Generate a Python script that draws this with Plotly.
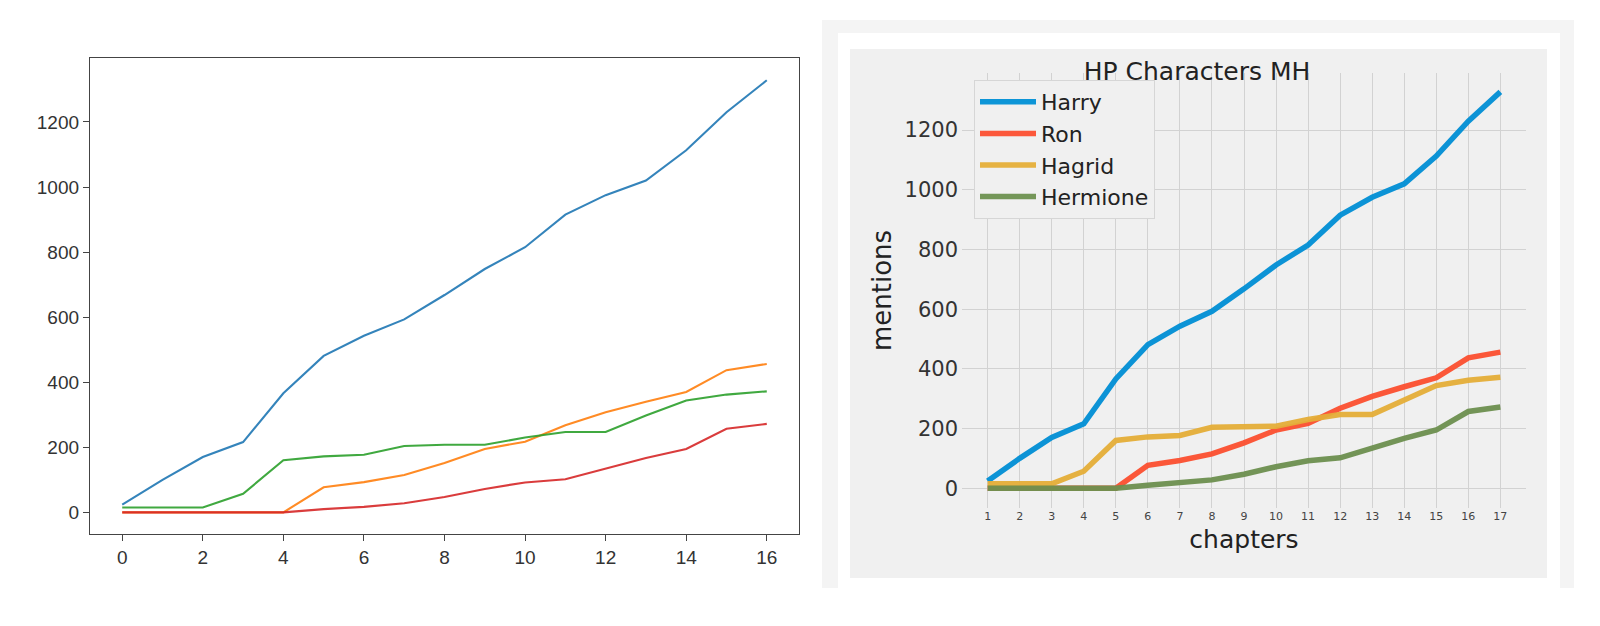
import plotly.graph_objects as go

# ---------------- data ----------------
chapters = list(range(1, 18))          # right chart x (chapter numbers)
index = list(range(17))                # left chart x (0-based index)
names = ["Harry", "Ron", "Hagrid", "Hermione"]
harry = [24, 100, 170, 216, 366, 481, 543, 593, 668, 748, 815, 915, 975, 1020, 1113, 1230, 1328]
ron = [0, 0, 0, 0, 0, 77, 93, 115, 152, 195, 217, 268, 308, 340, 370, 437, 456]
hagrid = [15, 15, 15, 57, 160, 172, 177, 204, 208, 208, 230, 247, 247, 298, 344, 362, 372]
hermione = [0, 0, 0, 0, 0, 10, 17, 28, 47, 72, 92, 102, 134, 167, 195, 257, 272]
series = [harry, ron, hagrid, hermione]
left_yticks = [0, 200, 400, 600, 800, 1000, 1200]
left_xticks = [0, 2, 4, 6, 8, 10, 12, 14, 16]
right_yticks = [0, 200, 400, 600, 800, 1000, 1200]

# ---------------- styling ----------------
W, H = 1600, 626
OFF = 8  # page body margin offset
left_colors = ["#1f77b4", "#ff7f0e", "#2ca02c", "#d62728"]
right_colors = ["#008fd5", "#fc4f30", "#e5ae38", "#6d904f"]
lfont = "Liberation Sans, Arial, DejaVu Sans"
dv = "DejaVu Sans"


def fx(p):
    return (p - OFF) / W


def fy(p):
    return 1 - (p - OFF) / H


fig = go.Figure()

for n, s, c in zip(names, series, left_colors):
    fig.add_trace(go.Scatter(x=index, y=s, mode="lines", name=n,
                             line=dict(color=c, width=2.1), opacity=0.9,
                             xaxis="x", yaxis="y", showlegend=False,
                             hoverinfo="skip"))

for n, s, c in zip(names, series, right_colors):
    fig.add_trace(go.Scatter(x=chapters, y=s, mode="lines", name=n,
                             line=dict(color=c, width=5.5), opacity=0.95,
                             xaxis="x2", yaxis="y2",
                             hoverinfo="skip"))

shapes = [
    dict(type="rect", xref="paper", yref="paper", x0=fx(822), x1=fx(1574),
         y0=fy(588), y1=fy(20), fillcolor="#f4f4f4", line=dict(width=0), layer="below"),
    dict(type="rect", xref="paper", yref="paper", x0=fx(838), x1=fx(1560),
         y0=fy(640), y1=fy(33), fillcolor="#ffffff", line=dict(width=0), layer="below"),
    dict(type="rect", xref="paper", yref="paper", x0=fx(850), x1=fx(1547),
         y0=fy(578), y1=fy(49), fillcolor="#f0f0f0", line=dict(width=0), layer="below"),
]

fig.update_layout(
    width=W, height=H,
    margin=dict(l=0, r=0, t=0, b=0),
    paper_bgcolor="white",
    plot_bgcolor="rgba(0,0,0,0)",
    shapes=shapes,
    font=dict(family=dv, color="#222"),
    title=dict(text="HP Characters MH", x=fx(1197), xanchor="center",
               y=fy(71), yanchor="middle", font=dict(size=25, family=dv, color="#222")),
    xaxis=dict(domain=[fx(90), fx(799)], range=[-0.8, 16.8], anchor="y",
               tickvals=left_xticks, showgrid=False, zeroline=False,
               showline=True, mirror=True, linecolor="#444", linewidth=1.3,
               ticks="outside", ticklen=6, tickcolor="#444", tickwidth=1.3,
               tickfont=dict(size=19, family=lfont, color="#333")),
    yaxis=dict(domain=[fy(534), fy(58)], range=[-66.5, 1396.5], anchor="x",
               tickvals=left_yticks, showgrid=False, zeroline=False,
               showline=True, mirror=True, linecolor="#444", linewidth=1.3,
               ticks="outside", ticklen=6, tickcolor="#444", tickwidth=1.3,
               tickfont=dict(size=19, family=lfont, color="#333")),
    xaxis2=dict(domain=[fx(962), fx(1526)], range=[0.2, 17.8], anchor="y2",
                tickvals=chapters, showgrid=True, gridcolor="#d2d2d2", gridwidth=1,
                zeroline=False, showline=False, ticks="",
                tickfont=dict(size=11, family=dv, color="#444"),
                title=dict(text="chapters", standoff=8,
                           font=dict(size=25, family=dv, color="#222"))),
    yaxis2=dict(domain=[fy(508), fy(73)], range=[-66.25, 1391.25], anchor="x2",
                tickvals=right_yticks, showgrid=True, gridcolor="#d2d2d2", gridwidth=1,
                zeroline=False, showline=False, ticks="", ticklabelstandoff=3,
                tickfont=dict(size=21, family=dv, color="#333"),
                title=dict(text="mentions", standoff=5,
                           font=dict(size=26, family=dv, color="#222"))),
    legend=dict(x=fx(974), y=fy(80), xanchor="left", yanchor="top",
                bgcolor="#f0f0f0", bordercolor="#d6d6d6", borderwidth=1,
                font=dict(size=22, family=dv, color="#222"),
                itemwidth=56),
)

fig.write_html("out.html")
